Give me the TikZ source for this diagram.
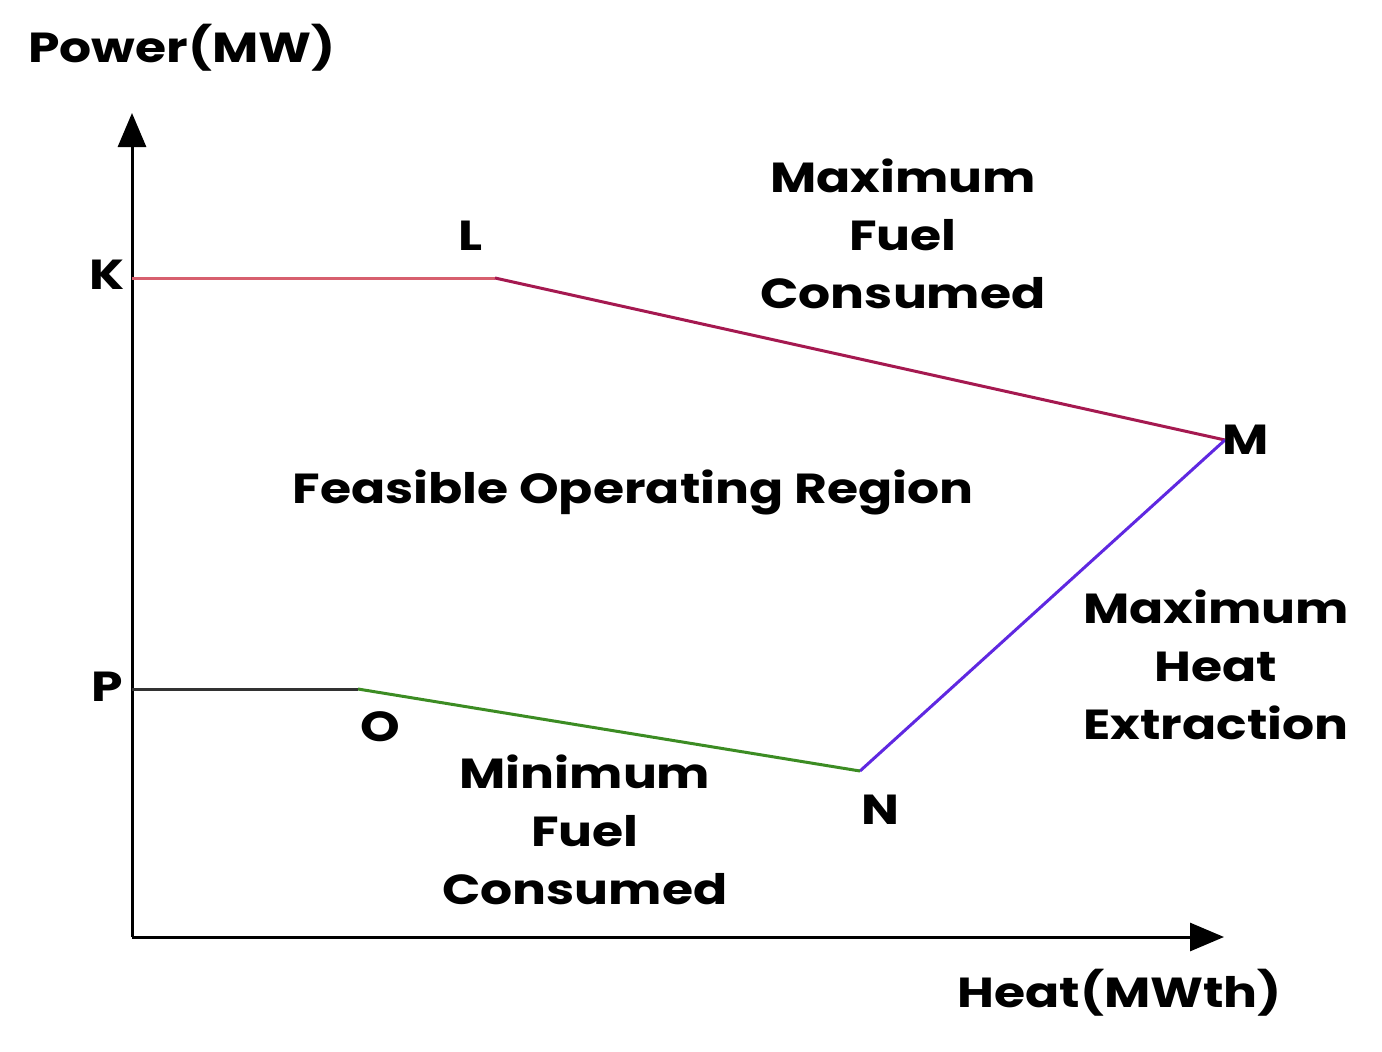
\documentclass[tikz,border=0pt]{standalone}
\usepackage{fontspec}
\setmainfont{Poppins}[FakeStretch=1.2]
\usetikzlibrary{arrows.meta}
\definecolor{klc}{RGB}{215,95,110}
\definecolor{lmc}{RGB}{165,25,80}
\definecolor{mnc}{RGB}{95,40,225}
\definecolor{noc}{RGB}{60,140,35}
\definecolor{poc}{RGB}{50,50,50}
\tikzset{lbl/.style={font=\bfseries\fontsize{42}{58}\selectfont,align=center,inner sep=0pt},
 axis/.style={line width=3pt,-{Triangle[length=34pt,width=28pt]}},
 seg/.style={line width=3pt}}
\begin{document}
\begin{tikzpicture}[x=1pt,y=-1pt]
\useasboundingbox (0,0) rectangle (1382,1052);
\coordinate (Or) at (132,937);
\coordinate (Ytop) at (132,113);
\coordinate (Xend) at (1224,937);
\coordinate (K) at (132,278);
\coordinate (L) at (495,278);
\coordinate (M) at (1225,440);
\coordinate (N) at (860,771);
\coordinate (O) at (358,689);
\coordinate (P) at (132,689);
\draw[axis] (Or) -- (Ytop);
\draw[axis] (Or) -- (Xend);
\draw[seg,klc] (K) -- (L);
\draw[seg,lmc] (L) -- (M);
\draw[seg,mnc] (M) -- (N);
\draw[seg,noc] (N) -- (O);
\draw[seg,poc] (O) -- (P);
\node[lbl,anchor=west] (ty) at (28,48) {Power(MW)};
\node[lbl,anchor=east] (tx) at (1282,993) {Heat(MWth)};
\node[lbl] (lk) at (107,275) {K};
\node[lbl] (ll) at (471,236) {L};
\node[lbl] (lm) at (1246,440) {M};
\node[lbl] (ln) at (880,810) {N};
\node[lbl] (lo) at (380,727) {O};
\node[lbl] (lp) at (107,687) {P};
\node[lbl] (maxf) at (903,234) {Maximum\\Fuel\\Consumed};
\node[lbl] (feas) at (633,492) {Feasible Operating Region};
\node[lbl] (maxh) at (1216,665) {Maximum\\Heat\\Extraction};
\node[lbl] (minf) at (585,830) {Minimum\\Fuel\\Consumed};
\end{tikzpicture}
\end{document}
